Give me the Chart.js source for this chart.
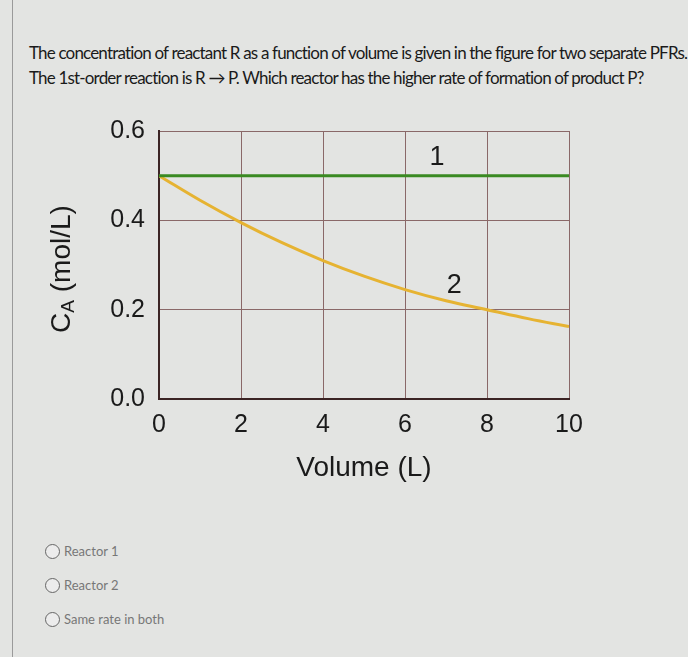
<!DOCTYPE html>
<html>
<head>
<meta charset="utf-8">
<script src="https://cdn.jsdelivr.net/npm/chart.js@4.4.1/dist/chart.umd.min.js"></script>
<style>
  html, body { margin: 0; padding: 0; }
  body { width: 688px; height: 657px; background: #e3e4e2; position: relative; overflow: hidden; font-family: Lato, sans-serif; }
  .edge { position: absolute; left: 12px; top: 0; width: 1px; height: 657px; background: #9a9a9a; }
  .q { position: absolute; left: 29px; top: 40px; color: #1a1a1a; font-size: 17px; line-height: 25px; letter-spacing: -0.82px; white-space: nowrap; }
  #wrap { position: absolute; left: 0; top: 100px; width: 688px; height: 400px; }
  .opt { position: absolute; left: 45px; color: #777; font-family: Lato, sans-serif; font-size: 13px; }
  .opt span { display: inline-block; width: 13px; height: 13px; border: 1px solid #666; border-radius: 50%; vertical-align: -3px; margin-right: 4px; background: #ececec; }
</style>
</head>
<body>
<div class="edge"></div>
<div class="q">The concentration of reactant R as a function of volume is given in the figure for two separate PFRs.<br>The 1st-order reaction is R &rarr; P. Which reactor has the higher rate of formation of product P?</div>
<div id="wrap"><canvas id="chart" width="688" height="400"></canvas></div>
<div class="opt" style="top:543px"><span></span>Reactor 1</div>
<div class="opt" style="top:577px"><span></span>Reactor 2</div>
<div class="opt" style="top:611px"><span></span>Same rate in both</div>
<script>
// values
const volumes = [0, 1, 2, 3, 4, 5, 6, 7, 8, 9, 10];
const reactor1 = [0.5, 0.5, 0.5, 0.5, 0.5, 0.5, 0.5, 0.5, 0.5, 0.5, 0.5];
const reactor2 = [0.5, 0.445, 0.395, 0.35, 0.31, 0.275, 0.245, 0.22, 0.2, 0.18, 0.162];
const xTicks = [0, 2, 4, 6, 8, 10];
const yTicks = [0, 0.2, 0.4, 0.6];
const curveLabels = [
  { text: "1", x: 6.78, y: 0.54 },
  { text: "2", x: 7.2, y: 0.255 }
];

const gridColor = "#8a6868";
const axisFont = "'Liberation Sans', Arial, sans-serif";

function pts(ys) { return volumes.map((v, i) => ({ x: v, y: ys[i] })); }

// curve numbers + y title with subscript
const extras = {
  id: "extras",
  afterDatasetsDraw(chart) {
    const { ctx, scales: { x, y } } = chart;
    ctx.save();
    ctx.fillStyle = "#1a1a1a";
    ctx.font = "27px " + axisFont;
    ctx.textAlign = "center";
    ctx.textBaseline = "middle";
    curveLabels.forEach(l => ctx.fillText(l.text, x.getPixelForValue(l.x), y.getPixelForValue(l.y)));
    ctx.restore();
  },
  afterDraw(chart) {
    const { ctx, chartArea } = chart;
    ctx.save();
    ctx.translate(62, (chartArea.top + chartArea.bottom) / 2 + 4);
    ctx.rotate(-Math.PI / 2);
    ctx.fillStyle = "#1a1a1a";
    ctx.textBaseline = "middle";
    ctx.textAlign = "left";
    const big = "28px " + axisFont, small = "19px " + axisFont;
    ctx.font = big; const wC = ctx.measureText("C").width;
    ctx.font = small; const wA = ctx.measureText("A").width;
    ctx.font = big; const rest = " (mol/L)"; const wR = ctx.measureText(rest).width;
    let sx = -(wC + wA + wR) / 2;
    ctx.fillText("C", sx, 0); sx += wC;
    ctx.font = small; ctx.fillText("A", sx, 7); sx += wA;
    ctx.font = big; ctx.fillText(rest, sx, 0);
    ctx.restore();
  }
};

new Chart(document.getElementById("chart"), {
  type: "line",
  data: {
    datasets: [
      { label: "Reactor 1", data: pts(reactor1), borderColor: "#3a8a22", borderWidth: 3, pointRadius: 0, tension: 0 },
      { label: "Reactor 2", data: pts(reactor2), borderColor: "#e6b332", borderWidth: 3, pointRadius: 0, tension: 0.4 }
    ]
  },
  options: {
    responsive: false,
    animation: false,
    layout: { padding: { top: 31, right: 119, left: 0, bottom: 0 } },
    plugins: { legend: { display: false }, tooltip: { enabled: false } },
    scales: {
      x: {
        type: "linear", min: 0, max: 10,
        afterBuildTicks: s => { s.ticks = xTicks.map(v => ({ value: v })); },
        afterFit: s => { s.height = 101; },
        grid: { color: gridColor, lineWidth: 1, drawTicks: false },
        border: { color: "#3b2424", width: 2 },
        ticks: { color: "#1a1a1a", padding: 11, font: { family: axisFont, size: 25 } },
        title: { display: true, text: "Volume (L)", color: "#1a1a1a", padding: { top: 15, bottom: 15 }, font: { family: axisFont, size: 28 } }
      },
      y: {
        min: 0, max: 0.6,
        afterBuildTicks: s => { s.ticks = yTicks.map(v => ({ value: v })); },
        afterFit: s => { s.width = 159; },
        grid: { color: gridColor, lineWidth: 1, drawTicks: false },
        border: { color: "#3b2424", width: 2 },
        ticks: { color: "#1a1a1a", padding: 14, font: { family: axisFont, size: 25 }, callback: v => v.toFixed(1) }
      }
    }
  },
  plugins: [extras]
});
</script>
</body>
</html>
